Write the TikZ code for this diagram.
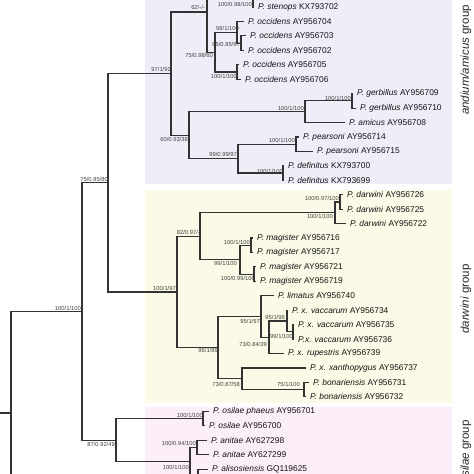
\documentclass[tikz,border=0pt]{standalone}
\usepackage{fontspec}
\setmainfont{Liberation Sans}
\definecolor{bgA}{RGB}{238,238,248}
\definecolor{bgB}{RGB}{250,250,230}
\definecolor{bgC}{RGB}{251,238,248}
\begin{document}
\begin{tikzpicture}[x=1pt,y=-1pt,
 br/.style={draw=black!80,line width=1.15pt},
 tip/.style={anchor=west,inner xsep=4pt,inner ysep=0pt,font=\fontsize{8.4}{9}\selectfont,text=black!92},
 sup/.style={anchor=east,inner sep=0pt,font=\fontsize{5.8}{6}\selectfont,text=black!75},
 grp/.style={rotate=90,inner sep=0pt,font=\fontsize{11.5}{12}\selectfont,text=black!85}]
\useasboundingbox (0,0) rectangle (474,474);
\clip (0,0) rectangle (474,474);
\fill[bgA] (145,-10) rectangle (452,184);
\fill[bgB] (145,190) rectangle (452,403);
\fill[bgC] (145,407) rectangle (452,490);
% internal nodes
\coordinate (nS) at (253,-0.2);
\coordinate (nTop) at (258,-7.4);
\coordinate (nU) at (240,-28);
\coordinate (n62) at (207,12);
\coordinate (n75) at (215,52.1);
\coordinate (nO1) at (237,32.3);
\coordinate (nO2) at (241,43.1);
\coordinate (nO3) at (237,72);
\coordinate (n97) at (171,73.6);
\coordinate (n60) at (189,135.2);
\coordinate (nG1) at (305,111.7);
\coordinate (nG2) at (352,100.9);
\coordinate (nP) at (238,158.6);
\coordinate (nPe) at (296,144.2);
\coordinate (nDf) at (283,173);
\coordinate (n75b) at (108,182.8);
\coordinate (n100a) at (177,292);
\coordinate (n82) at (200,236.3);
\coordinate (nD1) at (335,212.8);
\coordinate (nD2) at (340,202);
\coordinate (nM1) at (240,259.7);
\coordinate (nM2) at (251,245.3);
\coordinate (nM3) at (254,274.2);
\coordinate (n96) at (218,347.7);
\coordinate (nL) at (261,316.6);
\coordinate (nR) at (269,337.3);
\coordinate (nVA) at (287,321);
\coordinate (nVB) at (293,331.9);
\coordinate (nX) at (242,378.8);
\coordinate (nB) at (304,389.7);
\coordinate (n100r) at (82,311.5);
\coordinate (n87) at (116,440.2);
\coordinate (nOs) at (203,418.6);
\coordinate (nA) at (190,461.9);
\coordinate (nAn) at (197,447.4);
\coordinate (nAl) at (198,476.3);
\coordinate (nAlB) at (210,483.5);
\coordinate (nRoot) at (11,413);
\coordinate (nRootIn) at (-5,413);
\coordinate (nBelow) at (60,514.5);
% tips
\node[tip] (t702s) at (254,7) {\textit{P. stenops} KX793702};
\node[tip] (t704) at (244,21.44) {\textit{P. occidens} AY956704};
\node[tip] (t703) at (246,35.88) {\textit{P. occidens} AY956703};
\node[tip] (t702) at (244,50.32) {\textit{P. occidens} AY956702};
\node[tip] (t705) at (239,64.76) {\textit{P. occidens} AY956705};
\node[tip] (t706) at (241,79.2) {\textit{P. occidens} AY956706};
\node[tip] (t709) at (353,93.64) {\textit{P. gerbillus} AY956709};
\node[tip] (t710) at (356,108.08) {\textit{P. gerbillus} AY956710};
\node[tip] (t708) at (345,122.52) {\textit{P. amicus} AY956708};
\node[tip] (t714) at (299,136.96) {\textit{P. pearsoni} AY956714};
\node[tip] (t715) at (313,151.4) {\textit{P. pearsoni} AY956715};
\node[tip] (tk700) at (284,165.84) {\textit{P. definitus} KX793700};
\node[tip] (tk699) at (284,180.28) {\textit{P. definitus} KX793699};
\node[tip] (t726) at (343,194.72) {\textit{P. darwini} AY956726};
\node[tip] (t725) at (343,209.16) {\textit{P. darwini} AY956725};
\node[tip] (t722) at (346,223.6) {\textit{P. darwini} AY956722};
\node[tip] (t716) at (253,238.04) {\textit{P. magister} AY956716};
\node[tip] (t717) at (253,252.48) {\textit{P. magister} AY956717};
\node[tip] (t721) at (256,266.92) {\textit{P. magister} AY956721};
\node[tip] (t719) at (256,281.36) {\textit{P. magister} AY956719};
\node[tip] (t740) at (274,295.8) {\textit{P. limatus} AY956740};
\node[tip] (t734) at (288,310.24) {\textit{P. x. vaccarum} AY956734};
\node[tip] (t735) at (294,324.68) {\textit{P. x. vaccarum} AY956735};
\node[tip] (t736) at (294,339.12) {\textit{P.x. vaccarum} AY956736};
\node[tip] (t739) at (284,353.56) {\textit{P. x. rupestris} AY956739};
\node[tip] (t737) at (306,368) {\textit{P. x. xanthopygus} AY956737};
\node[tip] (t731) at (309,382.44) {\textit{P. bonariensis} AY956731};
\node[tip] (t732) at (306,396.88) {\textit{P. bonariensis} AY956732};
\node[tip] (t701) at (209,411.32) {\textit{P. osilae phaeus} AY956701};
\node[tip] (t700) at (205,425.76) {\textit{P. osilae} AY956700};
\node[tip] (t298) at (207,440.2) {\textit{P. anitae} AY627298};
\node[tip] (t299) at (209,454.64) {\textit{P. anitae} AY627299};
\node[tip] (t625) at (208,469.08) {\textit{P. alisosiensis} GQ119625};
% branches
\draw[br] (nRootIn) -- (nRoot);
\draw[br] (nRoot) |- (n100r);
\draw[br] (nRoot) |- (nBelow);
\draw[br] (n100r) |- (n75b);
\draw[br] (n100r) |- (n87);
\draw[br] (n75b) |- (n97);
\draw[br] (n75b) |- (n100a);
\draw[br] (n97) |- (n62);
\draw[br] (n97) |- (n60);
\draw[br] (n62) |- (nU);
\draw[br] (n62) |- (n75);
\draw[br] (nS) |- (nTop);
\draw[br] (nS) |- (t702s.west);
\draw[br] (n75) |- (nO1);
\draw[br] (n75) |- (nO3);
\draw[br] (nO1) |- (t704.west);
\draw[br] (nO1) |- (nO2);
\draw[br] (nO2) |- (t703.west);
\draw[br] (nO2) |- (t702.west);
\draw[br] (nO3) |- (t705.west);
\draw[br] (nO3) |- (t706.west);
\draw[br] (n60) |- (nG1);
\draw[br] (n60) |- (nP);
\draw[br] (nG1) |- (nG2);
\draw[br] (nG1) |- (t708.west);
\draw[br] (nG2) |- (t709.west);
\draw[br] (nG2) |- (t710.west);
\draw[br] (nP) |- (nPe);
\draw[br] (nP) |- (nDf);
\draw[br] (nPe) |- (t714.west);
\draw[br] (nPe) |- (t715.west);
\draw[br] (nDf) |- (tk700.west);
\draw[br] (nDf) |- (tk699.west);
\draw[br] (n100a) |- (n82);
\draw[br] (n100a) |- (n96);
\draw[br] (n82) |- (nD1);
\draw[br] (n82) |- (nM1);
\draw[br] (nD1) |- (nD2);
\draw[br] (nD1) |- (t722.west);
\draw[br] (nD2) |- (t726.west);
\draw[br] (nD2) |- (t725.west);
\draw[br] (nM1) |- (nM2);
\draw[br] (nM1) |- (nM3);
\draw[br] (nM2) |- (t716.west);
\draw[br] (nM2) |- (t717.west);
\draw[br] (nM3) |- (t721.west);
\draw[br] (nM3) |- (t719.west);
\draw[br] (n96) |- (nL);
\draw[br] (n96) |- (nX);
\draw[br] (nL) |- (t740.west);
\draw[br] (nL) |- (nR);
\draw[br] (nR) |- (nVA);
\draw[br] (nR) |- (t739.west);
\draw[br] (nVA) |- (t734.west);
\draw[br] (nVA) |- (nVB);
\draw[br] (nVB) |- (t735.west);
\draw[br] (nVB) |- (t736.west);
\draw[br] (nX) |- (t737.west);
\draw[br] (nX) |- (nB);
\draw[br] (nB) |- (t731.west);
\draw[br] (nB) |- (t732.west);
\draw[br] (n87) |- (nOs);
\draw[br] (n87) |- (nA);
\draw[br] (nOs) |- (t701.west);
\draw[br] (nOs) |- (t700.west);
\draw[br] (nA) |- (nAn);
\draw[br] (nA) |- (nAl);
\draw[br] (nAn) |- (t298.west);
\draw[br] (nAn) |- (t299.west);
\draw[br] (nAl) |- (t625.west);
\draw[br] (nAl) |- (nAlB);
% support values
\node[sup] (s62) at (205,7) {62/-/-};
\node[sup] (sS) at (252,4) {100/0.98/100};
\node[sup] (sO1) at (239,28) {98/1/100};
\node[sup] (sO2) at (240,44) {85/0.85/97};
\node[sup] (s75) at (213,55) {75/0.98/60};
\node[sup] (sO3) at (237,76) {100/1/100};
\node[sup] (s97) at (171,69) {97/1/92};
\node[sup] (s60) at (188,139) {60/0.93/38};
\node[sup] (sG1) at (304,108) {100/1/100};
\node[sup] (sG2) at (351,98) {100/1/100};
\node[sup] (sP) at (237,154) {99/0.99/97};
\node[sup] (sPe) at (295,140) {100/1/100};
\node[sup] (sDf) at (283,171) {100/1/100};
\node[sup] (s75b) at (108,179) {75/0.85/80};
\node[sup] (s100r) at (81,308) {100/1/100};
\node[sup] (s100a) at (176,288) {100/1/97};
\node[sup] (s82) at (200,232) {82/0.97/-};
\node[sup] (sD2) at (339,198) {100/0.97/100};
\node[sup] (sD1) at (333,216) {100/1/100};
\node[sup] (sM2) at (250,242) {100/1/100};
\node[sup] (sM1) at (237,263) {99/1/100};
\node[sup] (sM3) at (255,278) {100/0.99/100};
\node[sup] (s96) at (218,350) {96/1/89};
\node[sup] (sL) at (260,321) {95/1/97};
\node[sup] (sVA) at (285,317) {95/1/96};
\node[sup] (sVB) at (293,336) {99/1/100};
\node[sup] (sR) at (267,344) {73/0.84/39};
\node[sup] (sX) at (240,384) {73/0.87/58};
\node[sup] (sB) at (300,384) {75/1/100};
\node[sup] (s87) at (115,444) {87/0.92/49};
\node[sup] (sOs) at (203,415) {100/1/100};
\node[sup] (sAn) at (196,443) {100/0.94/100};
\node[sup] (sA) at (189,467) {100/1/100};
% group labels
\node[grp] (g1) at (466,60) {\textit{andium/amicus} group};
\node[grp] (g2) at (466,299) {\textit{darwini} group};
\node[grp,anchor=east] (g3) at (466,420) {\textit{osilae} group};
\end{tikzpicture}
\end{document}
